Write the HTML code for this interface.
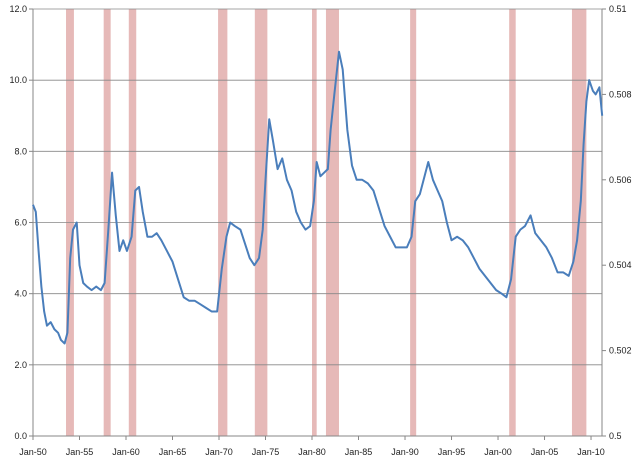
<!DOCTYPE html>
<html><head><meta charset="utf-8"><style>
body{margin:0;background:#fff;}
svg text{font-family:"Liberation Sans",sans-serif;font-size:9px;fill:#222;}
</style></head><body>
<svg width="641" height="464" id="c"></svg>
<script>
const recessions=[[1953.55,1954.4],[1957.6,1958.35],[1960.3,1961.1],[1969.9,1970.9],[1973.85,1975.2],[1980.0,1980.5],[1981.5,1982.9],[1990.55,1991.2],[2001.2,2001.9],[2007.95,2009.5]];
const years=[1950,1950.3,1950.6,1950.9,1951.2,1951.5,1951.9,1952.3,1952.7,1953.0,1953.4,1953.7,1954.0,1954.3,1954.7,1955.0,1955.4,1955.8,1956.3,1956.8,1957.3,1957.7,1958.1,1958.5,1958.9,1959.3,1959.7,1960.1,1960.6,1961.0,1961.4,1961.8,1962.3,1962.8,1963.3,1963.8,1964.4,1965.0,1965.6,1966.2,1966.8,1967.4,1968.0,1968.6,1969.2,1969.8,1970.3,1970.8,1971.2,1971.7,1972.3,1972.8,1973.3,1973.8,1974.3,1974.7,1975.0,1975.4,1975.8,1976.3,1976.8,1977.3,1977.8,1978.3,1978.8,1979.3,1979.8,1980.2,1980.5,1980.9,1981.3,1981.7,1982.0,1982.4,1982.9,1983.3,1983.8,1984.3,1984.8,1985.4,1986.0,1986.6,1987.2,1987.8,1988.4,1989.0,1989.6,1990.2,1990.7,1991.1,1991.6,1992.1,1992.5,1993.0,1993.5,1994.0,1994.5,1995.0,1995.6,1996.2,1996.8,1997.4,1998.0,1998.6,1999.2,1999.8,2000.4,2000.9,2001.4,2001.9,2002.4,2002.9,2003.5,2004.0,2004.6,2005.2,2005.8,2006.4,2007.0,2007.6,2008.1,2008.5,2008.9,2009.2,2009.5,2009.8,2010.2,2010.5,2010.9,2011.2];
const values=[6.5,6.3,5.2,4.2,3.5,3.1,3.2,3.0,2.9,2.7,2.6,2.9,5.0,5.8,6.0,4.8,4.3,4.2,4.1,4.2,4.1,4.3,5.8,7.4,6.2,5.2,5.5,5.2,5.6,6.9,7.0,6.3,5.6,5.6,5.7,5.5,5.2,4.9,4.4,3.9,3.8,3.8,3.7,3.6,3.5,3.5,4.7,5.6,6.0,5.9,5.8,5.4,5.0,4.8,5.0,5.8,7.2,8.9,8.3,7.5,7.8,7.2,6.9,6.3,6.0,5.8,5.9,6.6,7.7,7.3,7.4,7.5,8.6,9.6,10.8,10.3,8.6,7.6,7.2,7.2,7.1,6.9,6.4,5.9,5.6,5.3,5.3,5.3,5.6,6.6,6.8,7.3,7.7,7.2,6.9,6.6,6.0,5.5,5.6,5.5,5.3,5.0,4.7,4.5,4.3,4.1,4.0,3.9,4.4,5.6,5.8,5.9,6.2,5.7,5.5,5.3,5.0,4.6,4.6,4.5,4.9,5.5,6.6,8.2,9.4,10.0,9.7,9.6,9.8,9.0];
const leftTicks=["0.0","2.0","4.0","6.0","8.0","10.0","12.0"];
const rightTicks=["0.5","0.502","0.504","0.506","0.508","0.51"];
const xTicks=["Jan-50","Jan-55","Jan-60","Jan-65","Jan-70","Jan-75","Jan-80","Jan-85","Jan-90","Jan-95","Jan-00","Jan-05","Jan-10"];
const L=33,R=602,T=9,B=436,X0=1950,X1=2011.18;
const x=v=>L+(v-X0)/(X1-X0)*(R-L);
const y=v=>B-v/12*(B-T);
const NS="http://www.w3.org/2000/svg",s=document.getElementById('c');
function mk(t,a,p){const e=document.createElementNS(NS,t);for(const k in a)e.setAttribute(k,a[k]);(p||s).appendChild(e);return e;}
recessions.forEach(r=>{const e=mk('rect',{x:x(r[0]),y:T,width:x(r[1])-x(r[0]),height:B-T,fill:'#e6b9b8'});

});
leftTicks.forEach((t,i)=>{const yy=y(i*2);
if(i>0){const g=mk('line',{x1:L,x2:R,y1:yy,y2:yy,stroke:'#878787','stroke-width':0.8});

}
mk('line',{x1:L-4,x2:L,y1:yy,y2:yy,stroke:'#878787'});
const tx=mk('text',{x:L-6,y:yy+3,'text-anchor':'end'});tx.textContent=t;

});
rightTicks.forEach((t,i)=>{const yy=B-i*(B-T)/5;
mk('line',{x1:R,x2:R+4,y1:yy,y2:yy,stroke:'#878787'});
const tx=mk('text',{x:R+7,y:yy+3});tx.textContent=t;

});
xTicks.forEach((t,i)=>{const xx=x(1950+i*5);
mk('line',{x1:xx,x2:xx,y1:B,y2:B+4,stroke:'#878787'});
const tx=mk('text',{x:xx,y:B+19,'text-anchor':'middle'});tx.textContent=t;

});
mk('line',{x1:L,x2:L,y1:T,y2:B,stroke:'#878787'});
mk('line',{x1:R,x2:R,y1:T,y2:B,stroke:'#878787'});
mk('line',{x1:L,x2:R,y1:B,y2:B,stroke:'#878787'});
const p=mk('polyline',{points:years.map((v,i)=>x(v)+','+y(values[i])).join(' '),fill:'none',stroke:'#4a7ebb','stroke-width':2,'stroke-linejoin':'round'});


</script>
</body></html>
